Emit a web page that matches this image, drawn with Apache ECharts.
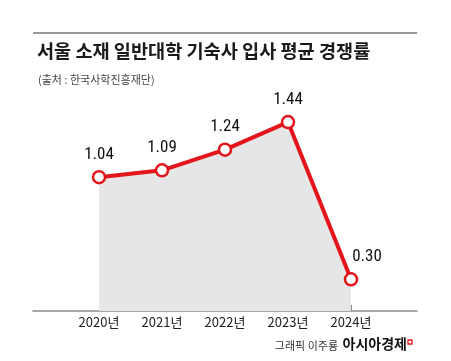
<!DOCTYPE html>
<html><head><meta charset="utf-8">
<script src="https://cdn.jsdelivr.net/npm/echarts@6/dist/echarts.min.js"></script>
<style>html,body{margin:0;padding:0;background:#fff;}#c{width:451px;height:361px;}</style>
</head><body><div id="c"></div>
<script>
var categories = ['2020년', '2021년', '2022년', '2023년', '2024년'];
var values = [1.04, 1.09, 1.24, 1.44, 0.30];
var titleText = '서울 소재 일반대학 기숙사 입사 평균 경쟁률';
var subtitleText = '(출처 : 한국사학진흥재단)';
var creditName = '그래픽 이주룡';
var creditBrand = '아시아경제';

var numFont = '"Liberation Sans Narrow", "Roboto Condensed", "DejaVu Sans Condensed", sans-serif';
var krFont = '"Noto Sans CJK KR", sans-serif';

var seriesData = values.map(function (v, i) {
  var item = { value: [i, v] };
  if (i === values.length - 1) {
    item.label = { offset: [16, 0] };
  }
  return item;
});

var chart = echarts.init(document.getElementById('c'), null, { renderer: 'canvas' });
chart.setOption({
  backgroundColor: '#ffffff',
  animation: false,
  title: [
    { text: titleText, left: 32, top: 37, textStyle: { fontFamily: krFont, fontSize: 18.6, fontWeight: 'bold', color: '#1a1a1a' } },
    { text: subtitleText, left: 33, top: 69, textStyle: { fontFamily: krFont, fontSize: 11, fontWeight: 'normal', color: '#444' } }
  ],
  grid: { left: 33, right: 34, top: 100, bottom: 50 },
  xAxis: {
    type: 'value',
    min: -1.0476,
    max: 5.0476,
    splitLine: { show: false },
    axisLine: { show: true, lineStyle: { color: '#8a8a8a', width: 1.5 } },
    axisTick: { show: true, inside: true, length: 6, customValues: [0, 1, 2, 3, 4], lineStyle: { color: '#8a8a8a', width: 1 } },
    axisLabel: {
      customValues: [0, 1, 2, 3, 4],
      formatter: function (v) { return categories[Math.round(v)]; },
      fontFamily: krFont, fontSize: 13, color: '#222', margin: 5
    }
  },
  yAxis: {
    type: 'value', min: 0.07, max: 1.6,
    show: false, splitLine: { show: false }
  },
  series: [{
    type: 'line',
    data: seriesData,
    lineStyle: { color: '#e4141b', width: 4 },
    itemStyle: { color: '#ffffff', borderColor: '#e4141b', borderWidth: 2.5 },
    symbol: 'circle',
    symbolSize: 12,
    areaStyle: { color: '#e6e6e6', opacity: 1, origin: 'start' },
    label: {
      show: true, position: 'top', distance: 7,
      formatter: function (p) { return p.value[1].toFixed(2); },
      fontFamily: numFont, fontSize: 17, color: '#111'
    },
    z: 3
  }],
  graphic: [
    { type: 'line', shape: { x1: 33, y1: 33, x2: 417, y2: 33 }, style: { stroke: '#333', lineWidth: 1 } },
    { type: 'text', right: 113, top: 340, style: { text: creditName, fontFamily: krFont, fontSize: 11, fill: '#333' } },
    { type: 'text', right: 44, top: 337, style: { text: creditBrand, fontFamily: krFont, fontSize: 14, fontWeight: 'bold', fill: '#111' } },
    { type: 'rect', shape: { x: 408, y: 340, width: 4, height: 4 }, style: { fill: 'none', stroke: '#e4141b', lineWidth: 1.3 } }
  ]
});
</script></body></html>
